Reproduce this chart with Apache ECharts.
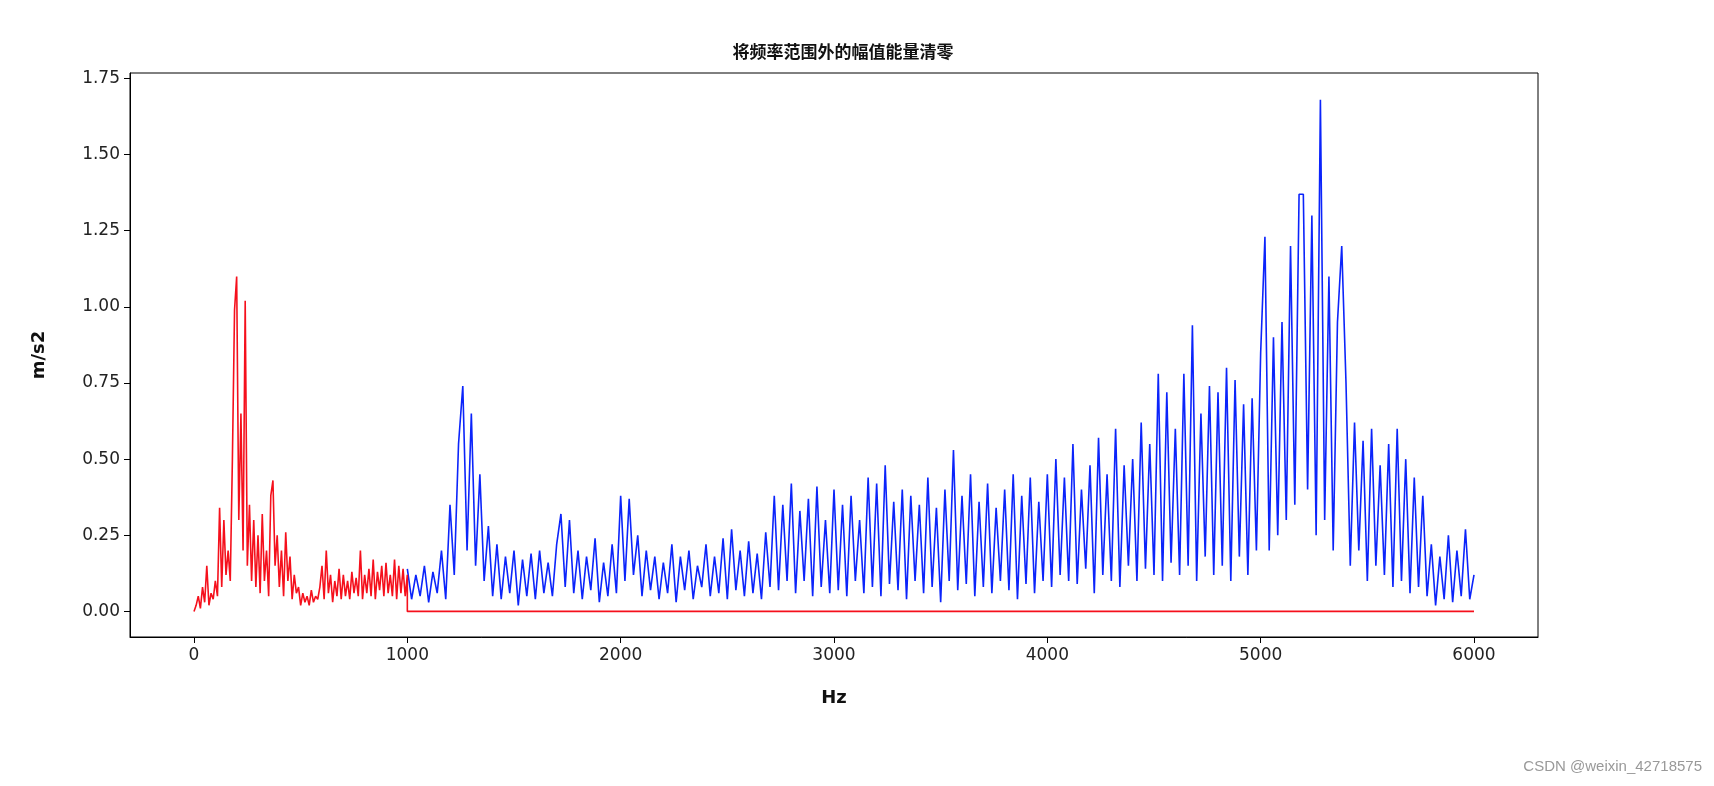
<!DOCTYPE html>
<html><head><meta charset="utf-8">
<script src="https://cdn.jsdelivr.net/npm/echarts@6/dist/echarts.min.js"></script>
<style>html,body{margin:0;padding:0;background:#fff}#c{width:1714px;height:786px}</style>
</head><body><div id="c"></div>
<script>
const title = '将频率范围外的幅值能量清零';
const xTicks = [0,1000,2000,3000,4000,5000,6000];
const yTicks = [0,0.25,0.5,0.75,1.0,1.25,1.5,1.75];
const redStart = 0, redStep = 10;
const redVals = [
0.0,0.02,0.05,0.01,0.08,0.03,0.15,0.02,0.06,0.04,
0.1,0.05,0.34,0.08,0.3,0.12,0.2,0.1,0.5,0.99,
1.1,0.3,0.65,0.2,1.02,0.15,0.35,0.1,0.3,0.08,
0.25,0.06,0.32,0.1,0.2,0.05,0.38,0.43,0.15,0.25,
0.08,0.2,0.05,0.26,0.1,0.18,0.04,0.12,0.06,0.08,
0.02,0.06,0.03,0.05,0.02,0.07,0.03,0.05,0.04,0.08,
0.15,0.04,0.2,0.06,0.12,0.03,0.1,0.05,0.14,0.04,
0.12,0.05,0.1,0.04,0.13,0.06,0.11,0.05,0.2,0.04,
0.12,0.06,0.14,0.05,0.17,0.04,0.13,0.07,0.15,0.05,
0.16,0.06,0.12,0.05,0.17,0.04,0.15,0.06,0.14,0.05,
0.12];
const redZeroFrom = 1000, redZeroTo = 6000;
const blueStart = 1000, blueStep = 20;
const blueVals = [
0.14,0.04,0.12,0.05,0.15,0.03,0.13,0.06,0.2,0.04,
0.35,0.12,0.55,0.74,0.2,0.65,0.15,0.45,0.1,0.28,
0.05,0.22,0.04,0.18,0.06,0.2,0.02,0.17,0.05,0.19,
0.04,0.2,0.06,0.16,0.05,0.22,0.32,0.08,0.3,0.06,
0.2,0.04,0.18,0.07,0.24,0.03,0.16,0.05,0.22,0.06,
0.38,0.1,0.37,0.12,0.25,0.05,0.2,0.07,0.18,0.04,
0.16,0.06,0.22,0.03,0.18,0.07,0.2,0.04,0.15,0.08,
0.22,0.05,0.18,0.06,0.24,0.04,0.27,0.07,0.2,0.05,
0.23,0.06,0.19,0.04,0.26,0.08,0.38,0.07,0.35,0.1,
0.42,0.06,0.33,0.1,0.37,0.05,0.41,0.08,0.3,0.06,
0.4,0.07,0.35,0.05,0.38,0.1,0.3,0.06,0.44,0.08,
0.42,0.05,0.48,0.09,0.36,0.07,0.4,0.04,0.38,0.1,
0.35,0.06,0.44,0.08,0.34,0.03,0.4,0.1,0.53,0.07,
0.38,0.09,0.45,0.05,0.36,0.08,0.42,0.06,0.34,0.1,
0.4,0.07,0.45,0.04,0.38,0.09,0.44,0.06,0.36,0.1,
0.45,0.08,0.5,0.12,0.44,0.1,0.55,0.09,0.4,0.14,
0.48,0.06,0.57,0.12,0.45,0.1,0.6,0.08,0.48,0.15,
0.5,0.1,0.62,0.14,0.55,0.12,0.78,0.1,0.72,0.16,
0.6,0.12,0.78,0.15,0.94,0.1,0.65,0.18,0.74,0.12,
0.72,0.15,0.8,0.1,0.76,0.18,0.68,0.12,0.7,0.2,
0.85,1.23,0.2,0.9,0.25,0.95,0.3,1.2,0.35,1.37,
1.37,0.4,1.3,0.25,1.68,0.3,1.1,0.2,0.95,1.2,
0.75,0.15,0.62,0.2,0.56,0.1,0.6,0.15,0.48,0.12,
0.55,0.08,0.6,0.1,0.5,0.06,0.44,0.08,0.38,0.05,
0.22,0.02,0.18,0.04,0.25,0.03,0.2,0.05,0.27,0.04,
0.12];

const blueData = blueVals.map((v,i)=>[blueStart+i*blueStep, v]);
const redData = redVals.map((v,i)=>[redStart+i*redStep, v]);
redData.push([redZeroFrom,0],[redZeroTo,0]);

const font = 'DejaVu Sans';
const chart = echarts.init(document.getElementById('c'));
chart.setOption({
  animation:false,
  title:{text:title,left:838,top:38,textAlign:'center',textStyle:{fontFamily:'Noto Sans CJK SC',fontSize:17,fontWeight:'bold',color:'#111'}},
  grid:{left:130,right:176,top:73,bottom:149,show:true,borderColor:'#000',borderWidth:1},
  xAxis:{type:'value',min:-300,max:6300,name:'Hz',nameLocation:'middle',nameGap:52,
    nameTextStyle:{fontFamily:font,fontSize:18,fontWeight:'bold',color:'#111'},
    splitLine:{show:false},axisLine:{onZero:false,lineStyle:{color:'#000'}},
    axisTick:{customValues:xTicks,length:6,lineStyle:{color:'#000'}},
    axisLabel:{customValues:xTicks,fontFamily:font,fontSize:17,color:'#222',margin:10,formatter:v=>String(v)}},
  yAxis:{type:'value',min:-0.084,max:1.768,name:'m/s2',nameLocation:'middle',nameGap:82,nameRotate:90,
    nameTextStyle:{fontFamily:font,fontSize:18,fontWeight:'bold',color:'#111'},
    splitLine:{show:false},axisLine:{show:true,onZero:false,lineStyle:{color:'#000'}},
    axisTick:{show:true,customValues:yTicks,length:6,lineStyle:{color:'#000'}},
    axisLabel:{customValues:yTicks,fontFamily:font,fontSize:17,color:'#222',margin:10,formatter:v=>v.toFixed(2)}},
  graphic:[{type:'text',right:12,bottom:12,style:{text:'CSDN @weixin_42718575',fontFamily:'Liberation Sans',fontSize:15,fill:'#999'}}],
  series:[
    {type:'line',data:blueData,showSymbol:false,lineStyle:{color:'#0b24fb',width:1.6},z:2},
    {type:'line',data:redData,showSymbol:false,lineStyle:{color:'#f5101c',width:1.6},z:3}
  ]
});
</script></body></html>
